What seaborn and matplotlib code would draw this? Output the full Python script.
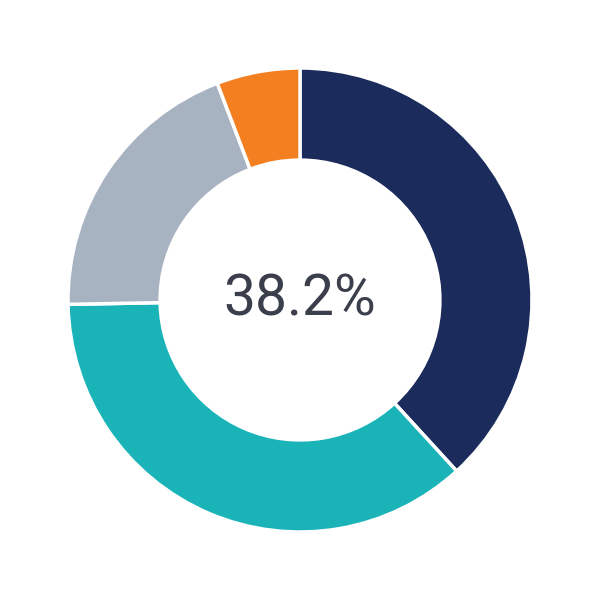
import matplotlib
matplotlib.use("Agg")
import matplotlib.pyplot as plt
import seaborn as sns

# Slice data (clockwise from 12 o'clock)
labels = ["Segment A", "Segment B", "Segment C", "Segment D"]
shares = [38.2, 36.5, 19.5, 5.8]
colors = ["#1b2b5b", "#1ab4b8", "#a8b3c2", "#f37f21"]
center_label = "38.2%"

sns.set_theme(style="white")
plt.rcParams['font.family'] = ['Roboto', 'DejaVu Sans']

fig = plt.figure(figsize=(6, 6), dpi=100)
ax = fig.add_axes([0, 0, 1, 1])

ax.pie(shares, colors=colors, startangle=90, counterclock=False,
       radius=1.0,
       wedgeprops=dict(width=0.397, edgecolor="white", linewidth=2.5))

ax.text(0, 0.0, center_label, ha="center", va="center",
        fontsize=41, color="#3b3f4c")

lim = 300 / 232
ax.set_xlim(-lim, lim)
ax.set_ylim(-lim, lim)
ax.set_aspect("equal")
ax.axis("off")

fig.savefig("out.png", dpi=100, facecolor="white")
